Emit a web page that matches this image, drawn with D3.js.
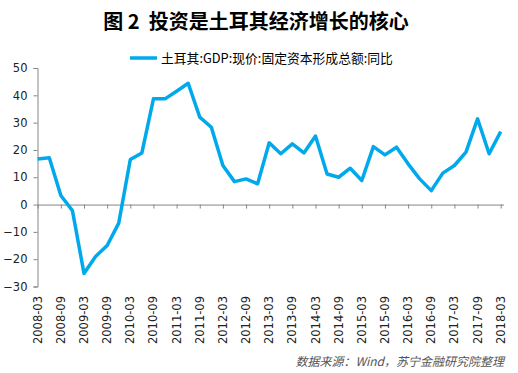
<!DOCTYPE html>
<html>
<head>
<meta charset="utf-8">
<script src="https://cdn.jsdelivr.net/npm/d3@7"></script>
<style>
  body { margin: 0; background: #fff; }
  svg { display: block; font-family: "Noto Sans CJK SC", "Noto Sans", sans-serif; }
</style>
</head>
<body>
<svg id="chart" width="518" height="373"></svg>
<script>
// 季度数据 2008-03 ~ 2018-03
const quarters = [];
for (let y = 2008; y <= 2018; y++) {
    ["03", "06", "09", "12"].forEach(m => {
        if (y === 2018 && m !== "03") return;
        quarters.push(`${y}-${m}`);
    });
}
const values = [
    16.7, 17.1, 3.3, -2.2, -25.2, -19.0, -15.0, -6.8,
    16.5, 18.9, 38.7, 38.7, 41.5, 44.4, 32.0, 28.3,
    14.3, 8.4, 9.4, 7.6, 22.6, 18.6, 22.2, 18.9,
    25.1, 11.2, 10.0, 13.3, 8.8, 21.2, 18.2, 21.0,
    14.9, 9.4, 5.1, 11.5, 14.3, 19.2, 31.4, 18.6,
    26.7
];
const yTicks = [-30, -20, -10, 0, 10, 20, 30, 40, 50];
const xLabels = quarters.filter((d, i) => i % 2 === 0);

const title = "图 2  投资是土耳其经济增长的核心";
const seriesName = "土耳其:GDP:现价:固定资本形成总额:同比";
const source = "数据来源：Wind，苏宁金融研究院整理";

const svg = d3.select("#chart");
const lineColor = "#00a9ec";
const axisColor = "#868686";

const x = d3.scalePoint().domain(quarters).range([37.7, 500.7]);
const y = d3.scaleLinear().domain([-30, 50]).range([286.5, 68]);

// 标题
svg.append("text")
    .attr("x", 256).attr("y", 29)
    .attr("text-anchor", "middle")
    .attr("font-size", 20).attr("font-weight", "bold")
    .attr("fill", "#000")
    .style("white-space", "pre")
    .text(title);

// 图例
svg.append("line")
    .attr("x1", 130).attr("x2", 157)
    .attr("y1", 58).attr("y2", 58)
    .attr("stroke", lineColor).attr("stroke-width", 3.5);
svg.append("text")
    .attr("x", 161).attr("y", 62.5)
    .attr("font-size", 12.8).attr("fill", "#000")
    .text(seriesName);

// Y轴
const yAxis = svg.append("g")
    .attr("transform", "translate(37.5,0)")
    .call(d3.axisLeft(y).tickValues(yTicks).tickSize(4).tickPadding(6));
yAxis.select(".domain").attr("stroke", axisColor);
yAxis.selectAll(".tick line").attr("stroke", axisColor);
yAxis.selectAll("text").attr("font-size", 11.5).attr("fill", "#222")
    .attr("font-family", "'DejaVu Sans', sans-serif");

// X轴（零线）
const xAxis = svg.append("g")
    .attr("transform", `translate(0,${y(0)})`)
    .call(d3.axisBottom(x).tickValues(xLabels).tickSize(4).tickSizeOuter(0).tickFormat(""));
xAxis.select(".domain").attr("stroke", axisColor)
    .attr("d", `M37.5,0.5H504`);
xAxis.selectAll(".tick line").attr("stroke", axisColor);

// X轴标签（竖排）
svg.append("g").selectAll("text")
    .data(xLabels)
    .enter()
    .append("text")
    .attr("transform", d => `translate(${x(d) + 4},296) rotate(-90)`)
    .attr("text-anchor", "end")
    .attr("font-size", 11.5).attr("fill", "#222")
    .attr("font-family", "'DejaVu Sans', sans-serif")
    .text(d => d);

// 折线
const line = d3.line()
    .x((d, i) => x(quarters[i]))
    .y(d => y(d));
svg.append("path")
    .datum(values)
    .attr("d", line)
    .attr("fill", "none")
    .attr("stroke", lineColor)
    .attr("stroke-width", 3.5)
    .attr("stroke-linejoin", "round");

// 数据来源
svg.append("text")
    .attr("x", 504).attr("y", 366)
    .attr("text-anchor", "end")
    .attr("font-size", 12).attr("font-style", "italic")
    .attr("fill", "#555")
    .text(source);
</script>
</body>
</html>
